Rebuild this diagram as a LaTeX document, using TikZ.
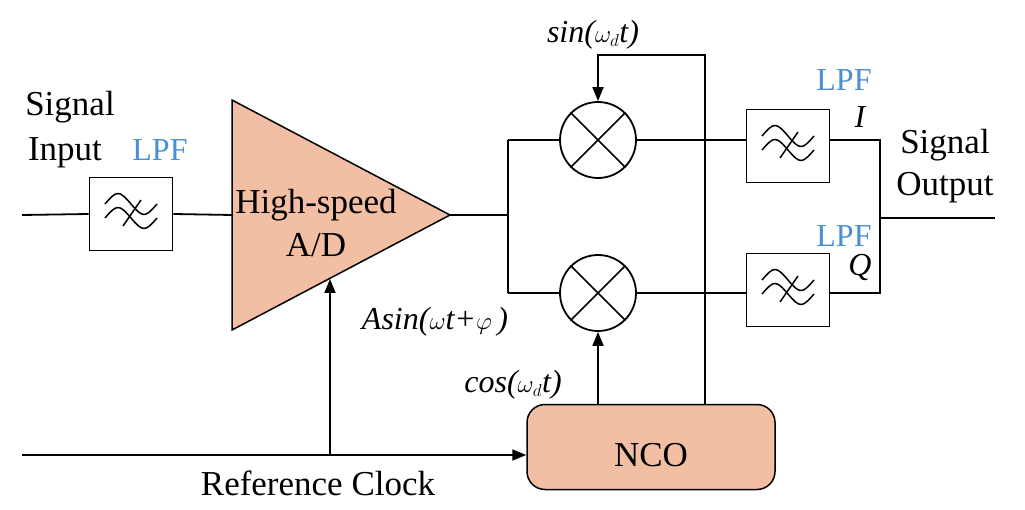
\documentclass[tikz,border=0pt]{standalone}
\usepackage{fontspec}
\setmainfont{Liberation Serif}
\usetikzlibrary{arrows.meta}
\definecolor{peach}{HTML}{F2BFA5}
\definecolor{lblue}{HTML}{4A8FD6}
\begin{document}
\begin{tikzpicture}[x=1pt,y=-1pt,line width=1.8pt,
  txt/.style={font=\fontsize{35}{40}\selectfont,inner sep=0pt},
  lab/.style={txt,font=\fontsize{32}{36}\selectfont\itshape},
  blue/.style={txt,text=lblue,font=\fontsize{32}{36}\selectfont},
  filt/.style={draw,minimum width=83pt,minimum height=73pt,inner sep=0pt},
  mix/.style={draw,circle,minimum size=76pt,inner sep=0pt},
  arr/.style={-{Triangle[length=14pt,width=11pt]}}]
\useasboundingbox (0,0) rectangle (1025,510);
\newcommand\filtsym[1]{%
  \foreach \dy in {-10,4}{\draw[line width=1.5pt] ([xshift=-26pt,yshift=-\dy pt]#1.center) .. controls +(12,-14) and +(-12,-14) .. ++(26,0) .. controls +(12,14) and +(-12,14) .. ++(26,0);}
  \draw[line width=1.5pt] ([xshift=-8pt,yshift=-12pt]#1.center) -- ([xshift=10pt,yshift=14pt]#1.center);}
\newcommand\mixsym[1]{\draw[line width=1.5pt] (#1.45) -- (#1.225) (#1.135) -- (#1.315);}
% nodes
\coordinate (in) at (22,215);
\node[filt] (f1) at (131,214) {};
\filtsym{f1}
\path[draw,fill=peach,line width=1.5pt] (232,100) -- (450,215) -- (232,330) -- cycle;
\coordinate (adin) at (232,215);
\coordinate (adout) at (450,215);
\coordinate (adclk) at (330,279);
\node[txt] at (316,205) {High-speed};
\node[txt] at (316,245) {A/D};
\coordinate (sp) at (508,215);
\node[mix] (m1) at (598,140) {}; \mixsym{m1}
\node[mix] (m2) at (598,293) {}; \mixsym{m2}
\node[filt] (f2) at (788,146) {}; \filtsym{f2}
\node[filt] (f3) at (788,290) {}; \filtsym{f3}
\coordinate (j) at (880,218);
\coordinate (out) at (995,218);
\node[draw,fill=peach,rounded corners=18pt,minimum width=248pt,minimum height=85pt,line width=1.5pt] (nco) at (651,447) {};
\node[txt] at (651,455) {NCO};
\coordinate (clk) at (22,455);
% connectors
\draw (in) -- (f1.west) (f1.east) -- (adin);
\draw (adout) -- (sp) (sp |- m1) -- (sp |- m2);
\draw (sp |- m1) -- (m1.west) (sp |- m2) -- (m2.west);
\draw (m1.east) -- (f2.west |- m1) (m2.east) -- (f3.west |- m2);
\draw (f2.east |- m1) -- (j |- m1) -- (j |- m2) -- (f3.east |- m2);
\draw (j) -- (out);
\draw[arr] (clk) -- (nco.west |- clk);
\draw[arr] (adclk |- clk) -- (adclk);
\draw[arr] (m2 |- nco.north) -- (m2.south);
\draw[arr] (705,405) -- (705,55) -- (598,55) -- (m1.north);
% labels
\node[txt] at (70,107) {Signal};
\node[txt] at (65,153) {Input};
\node[blue] at (160,150) {LPF};
\node[blue] at (844,80) {LPF};
\node[lab] at (860,117) {I};
\node[blue] at (844,236) {LPF};
\node[lab] at (860,268) {Q};
\node[txt] at (945,145) {Signal};
\node[txt] at (945,188) {Output};
\node[lab] at (435,322) {Asin($\omega$t+$\varphi$\,)};
\node[lab] at (513,385) {cos($\omega_{\scriptscriptstyle d}$t)};
\node[lab] at (593,35) {sin($\omega_{\scriptscriptstyle d}$t)};
\node[txt] at (318,483) {Reference Clock};
\end{tikzpicture}
\end{document}
